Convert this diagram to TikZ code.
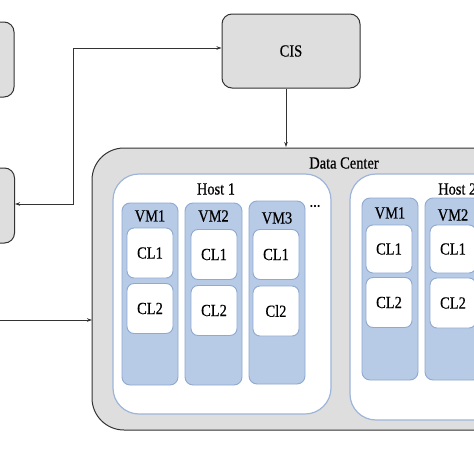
\documentclass[tikz,border=0pt]{standalone}
\usepackage{fontspec}
\setmainfont{Liberation Serif}[FakeStretch=0.85,FakeBold=0.4]
\usepackage{tikz}
\usetikzlibrary{arrows.meta,positioning,calc}
\definecolor{boxgray}{HTML}{DEDEDE}
\definecolor{linegray}{HTML}{333333}
\definecolor{vmblue}{HTML}{B7CAE6}
\definecolor{vmline}{HTML}{8FA9D0}
\definecolor{hostline}{HTML}{9DB5DA}
\tikzset{
  graybox/.style={draw=linegray,fill=boxgray,line width=1pt,rounded corners=10pt},
  hostbox/.style={draw=hostline,fill=white,line width=1.2pt,rounded corners=26pt},
  vmbox/.style={draw=vmline,fill=vmblue,line width=0.9pt,rounded corners=8pt},
  clbox/.style={draw=vmline,fill=white,line width=0.9pt,rounded corners=7pt,minimum width=46pt,minimum height=50pt,inner sep=0pt},
  conn/.style={draw=linegray,line width=0.9pt,-{Stealth[length=5pt,width=3.5pt]}},
  lbl/.style={font=\fontsize{17}{19}\selectfont,inner sep=0pt}
}
\begin{document}
\begin{tikzpicture}[x=1pt,y=-1pt]
\useasboundingbox (0,0) rectangle (474,474);
\clip (0,0) rectangle (474,474);
\fill[white] (0,0) rectangle (474,474);
% side boxes and CIS
\draw[graybox] (-30,22) rectangle (14,97);
\node[graybox,minimum width=35pt,minimum height=75pt] (user) at (-3,205.5) {};
\node[graybox,minimum width=138pt,minimum height=74pt,lbl] (cis) at (291,51) {CIS};
% data center
\draw[draw=linegray,fill=boxgray,line width=1pt,rounded corners=32pt] (92,148) rectangle (520,430);
\node[lbl] (dc) at (344,163) {Data Center};
\coordinate (dcin) at (92,320);
\coordinate (dctop) at (286,147);
% hosts
\draw[hostbox] (113,174) rectangle (331,414);
\draw[hostbox] (350,174) rectangle (520,420);
\node[lbl] (host1) at (216,189) {Host 1};
\node[lbl,anchor=west] (host2) at (438,189) {Host 2};
% virtual machines of host 1
\draw[vmbox] (122,203) rectangle (178,385);
\draw[vmbox] (185,203) rectangle (242,385);
\draw[vmbox] (249,201) rectangle (305,384);
\node[lbl] (vma) at (150,216) {VM1};
\node[lbl] (vmb) at (213.5,216) {VM2};
\node[lbl] (vmc) at (277,218) {VM3};
\node[lbl] (dots) at (315,206) {...};
\node[clbox,lbl] (cla) at (150,253) {CL1};
\node[clbox,lbl] (clb) at (150,308.5) {CL2};
\node[clbox,lbl] (clc) at (214,254.5) {CL1};
\node[clbox,lbl] (cld) at (214,310.5) {CL2};
\node[clbox,lbl] (cle) at (276,254.5) {CL1};
\node[clbox,lbl] (clf) at (276,311) {Cl2};
% virtual machines of host 2
\draw[vmbox] (362,198) rectangle (418,380);
\draw[vmbox] (425,198) rectangle (481,380);
\node[lbl] (vmd) at (390,213) {VM1};
\node[lbl] (vme) at (453,215) {VM2};
\node[clbox,lbl,minimum height=48pt] (clg) at (389,249) {CL1};
\node[clbox,lbl] (clh) at (389,302.5) {CL2};
\node[clbox,lbl,minimum height=48pt] (cli) at (453,249) {CL1};
\node[clbox,lbl] (clj) at (453,303) {CL2};
% connectors
\draw[conn,{Stealth[length=5pt,width=3.5pt]}-{Stealth[length=5pt,width=3.5pt]}] (cis.west |- 0,48) -- (73,48) -- (73,204) -- (user.east |- 0,204);
\draw[conn] (cis.south -| dctop) -- (dctop);
\draw[conn] (0,320) -- (dcin);
\end{tikzpicture}
\end{document}
